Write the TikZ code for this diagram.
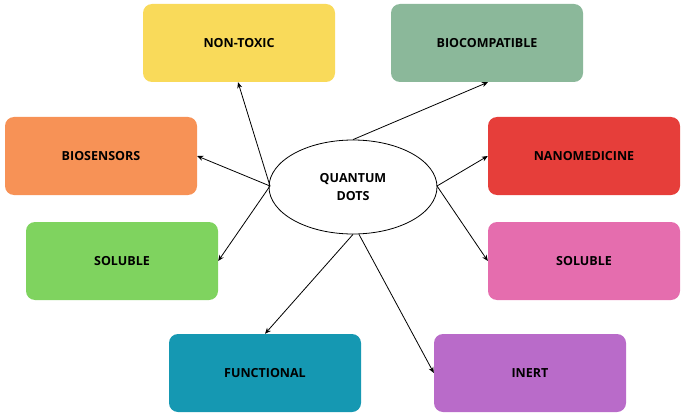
\documentclass[tikz,border=0pt]{standalone}
\usepackage{fontspec}
\setmainfont{Open Sans}
\usetikzlibrary{positioning, arrows.meta, calc, shapes.geometric}

\definecolor{cyellow}{HTML}{F9DA5A}
\definecolor{cgreen}{HTML}{8BB89A}
\definecolor{corange}{HTML}{F79256}
\definecolor{cred}{HTML}{E63E3A}
\definecolor{clime}{HTML}{7FD35F}
\definecolor{cpink}{HTML}{E56DAE}
\definecolor{cteal}{HTML}{1598B2}
\definecolor{cviolet}{HTML}{B96BC9}

\begin{document}
\begin{tikzpicture}[
  x=1pt, y=-1pt,
  propbox/.style={rectangle, rounded corners=9pt, minimum width=192pt,
    minimum height=78pt, font=\fontsize{12.5}{15}\selectfont\bfseries},
  arr/.style={draw=black, thick, -{Stealth[length=6pt,width=5pt]}}
]
\useasboundingbox (0,0) rectangle (685,417);

\node[propbox, fill=cyellow] (toxic) at (239,43) {NON-TOXIC};
\node[propbox, fill=cgreen] (biocomp) at (487,43) {BIOCOMPATIBLE};
\node[propbox, fill=corange] (sensor) at (101,156) {BIOSENSORS};
\node[propbox, fill=cred] (nano) at (584,156) {NANOMEDICINE};
\node[propbox, fill=clime] (solleft) at (122,261) {SOLUBLE};
\node[propbox, fill=cpink] (solright) at (584,261) {SOLUBLE};
\node[propbox, fill=cteal] (func) at (265,373) {FUNCTIONAL};
\node[propbox, fill=cviolet] (inert) at (530,373) {INERT};

\node[ellipse, draw, thick, fill=white, minimum width=168pt, minimum height=94pt,
  align=center, font=\fontsize{12.5}{18}\selectfont\bfseries] (qd) at (353,187) {QUANTUM\\DOTS};

\coordinate (qleft) at (270,186);
\coordinate (qright) at (437,186);

\draw[arr] (qleft) -- ($(toxic.south)+(-1,0)$);
\draw[arr] (qleft) -- (sensor.east);
\draw[arr] (qleft) -- (solleft.east);
\draw[arr] (qd.north) -- ($(biocomp.south)+(1,0)$);
\draw[arr] (qright) -- (nano.west);
\draw[arr] (qright) -- (solright.west);
\draw[arr] ($(qd.south)+(0,0)$) -- ($(func.north)+(0,0)$);
\draw[arr] ($(qd.south)+(6,0)$) -- (inert.west);
\end{tikzpicture}
\end{document}
